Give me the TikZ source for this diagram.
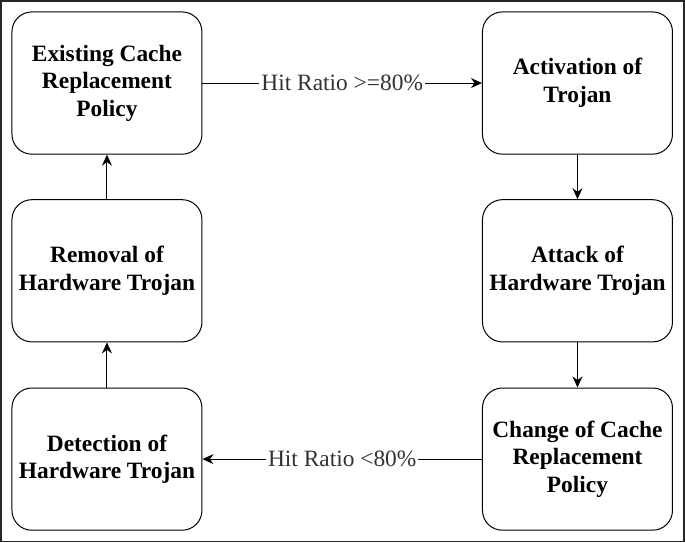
\documentclass[tikz,border=0pt]{standalone}
\usepackage{fontspec}
\setmainfont{Liberation Serif}
\usetikzlibrary{positioning, arrows.meta}

\begin{document}
\begin{tikzpicture}[
      every node/.style={font=\fontsize{11.7}{13.8}\selectfont},
      stage/.style={draw, line width=0.5pt, rounded corners=0.35cm, minimum width=3.34cm, minimum height=2.5cm, align=center, font=\fontsize{11.7}{13.8}\selectfont\bfseries},
      ratio/.style={fill=white, inner sep=1pt, text=black!80},
      link/.style={->, line width=0.5pt},
      >={Stealth[length=5.5pt, width=5pt]},
    ]
    \useasboundingbox (0, 0) rectangle (12.04, 9.54);
    \draw[line width=0.8pt, black!85] (0.02, 0.02) rectangle (12.02, 9.52);

    \node[stage] (exist) at (1.88, 8.08) {Existing Cache\\Replacement\\Policy};
    \node[stage] (activ) at (10.15, 8.08) {Activation of\\Trojan};

    \node[stage] (removal) at (1.88, 4.78) {Removal of\\Hardware Trojan};
    \node[stage] (attack) at (10.15, 4.78) {Attack of\\Hardware Trojan};

    \node[stage] (detect) at (1.88, 1.47) {Detection of\\Hardware Trojan};
    \node[stage] (change) at (10.15, 1.47) {Change of Cache\\Replacement\\Policy};

    \draw[link] (exist) -- node[ratio] {Hit Ratio >=80\%} (activ);
    \draw[link] (activ) -- (attack);
    \draw[link] (attack) -- (change);
    \draw[link] (change) -- node[ratio] {Hit Ratio <80\%} (detect);
    \draw[link] (detect) -- (removal);
    \draw[link] (removal) -- (exist);
  \end{tikzpicture}
\end{document}
